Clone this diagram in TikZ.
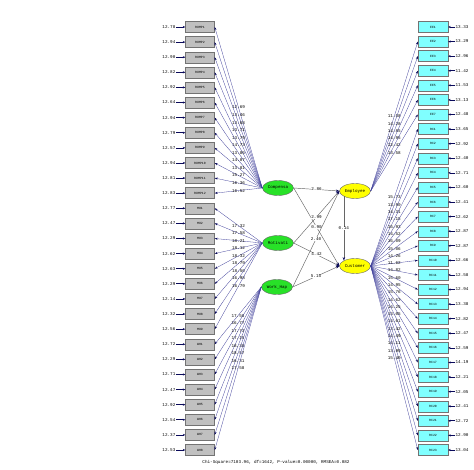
\documentclass[tikz,border=0pt]{standalone}
\usepackage{fontspec}
\setmainfont{Liberation Mono}
\usetikzlibrary{shapes.geometric,arrows.meta}
\definecolor{boxgray}{RGB}{192,192,192}
\definecolor{boxcyan}{RGB}{128,255,255}
\definecolor{latgreen}{RGB}{40,225,40}
\definecolor{latyellow}{RGB}{255,255,0}
\definecolor{linecol}{RGB}{65,65,155}
\definecolor{tipcol}{RGB}{10,10,90}
\tikzset{
  lbox/.style={draw=black!55, fill=boxgray, minimum width=29pt, minimum height=11pt, inner sep=0pt, font=\fontsize{3.2}{3.2}\selectfont},
  rbox/.style={draw=black!55, fill=boxcyan, minimum width=30pt, minimum height=11pt, inner sep=0pt, font=\fontsize{3.2}{3.2}\selectfont},
  lat/.style={ellipse, draw=black!60, minimum width=31pt, minimum height=15pt, inner sep=0pt, font=\fontsize{4.2}{4.2}\selectfont},
  num/.style={font=\fontsize{4.3}{4.3}\selectfont, inner sep=0.4pt},
  load/.style={draw=linecol, line width=0.3pt, -{Stealth[length=3pt,width=2pt,color=tipcol]}},
  errar/.style={draw=tipcol, line width=0.7pt, -{Stealth[length=2.5pt,width=2.2pt]}},
  struct/.style={draw=black!60, line width=0.45pt, -{Stealth[length=3.5pt,width=2.5pt,color=tipcol]}},
  slab/.style={num, fill=white}
}
\begin{document}
\begin{tikzpicture}[x=1pt,y=-1pt]
\useasboundingbox (0,0) rectangle (474,470);
% left indicators
\foreach \n/\e [count=\i] in {ROMP1/12.78,ROMP2/12.94,ROMP3/12.90,ROMP4/12.82,ROMP5/12.92,ROMP6/12.64,ROMP7/12.94,ROMP8/12.79,ROMP9/12.57,ROMP10/12.94,ROMP11/12.81,ROMP12/12.83,MO1/12.77,MO2/12.47,MO3/12.29,MO4/12.62,MO5/12.63,MO6/12.29,MO7/12.14,MO8/12.32,MO9/12.56,WH1/12.72,WH2/12.29,WH3/12.71,WH4/12.47,WH5/12.92,WH6/12.54,WH7/12.37,WH8/12.53}{
  \node[lbox] (L\i) at (200,{27+15.107*(\i-1)}) {\n};
  \node[num, anchor=east] (eL\i) at (176,{27+15.107*(\i-1)}) {\e};
  \draw[errar] (eL\i.east) -- (L\i.west);
}
% right indicators
\foreach \n/\e [count=\i] in {EE1/13.33,EE2/13.29,EE3/12.96,EE4/11.42,EE5/11.53,EE6/13.13,EE7/12.48,RC1/13.65,RC2/12.92,RC3/12.40,RC4/12.71,RC5/12.60,RC6/12.41,RC7/12.62,RC8/12.87,RC9/12.87,RC10/12.66,RC11/12.58,RC12/12.94,RC13/13.38,RC14/12.82,RC15/12.47,RC16/12.59,RC17/14.19,RC18/12.21,RC19/12.05,RC20/12.41,RC21/12.72,RC22/12.90,RC23/13.04}{
  \node[rbox] (R\i) at (433,{27+14.586*(\i-1)}) {\n};
  \node[num, anchor=west] (eR\i) at (455,{27+14.586*(\i-1)}) {\e};
  \draw[errar] (eR\i.west) -- (R\i.east);
}
% latent variables
\node[lat, fill=latgreen] (Compensa) at (278,188) {Compensa};
\node[lat, fill=latgreen] (Motivati) at (278,243) {Motivati};
\node[lat, fill=latgreen] (WorkHap) at (277,287) {Work\_Hap};
\node[lat, fill=latyellow] (Employee) at (355,191) {Employee};
\node[lat, fill=latyellow] (Customer) at (355,266) {Customer};
% loadings left
\foreach \i/\v in {1/12.69,2/13.46,3/13.68,4/13.71,5/13.79,6/14.73,7/13.85,8/14.07,9/13.81,10/15.27,11/16.36,12/16.52}{
  \draw[load] (Compensa.west) -- node[num]{\v} (L\i.east);
}
\foreach \i/\v in {13/17.32,14/17.58,15/18.21,16/18.12,17/18.32,18/18.79,19/18.50,20/16.98,21/16.79}{
  \draw[load] (Motivati.west) -- node[num]{\v} (L\i.east);
}
\foreach \i/\v in {22/17.58,23/16.77,24/17.73,25/17.15,26/18.38,27/18.57,28/16.31,29/17.58}{
  \draw[load] (WorkHap.west) -- node[num]{\v} (L\i.east);
}
% loadings right
\foreach \i/\v in {2/11.58,3/14.28,4/14.85,5/14.95,6/12.42,7/13.58}{
  \draw[load] (Employee.east) -- node[num]{\v} (R\i.west);
}
\foreach \i/\v in {8/15.73,9/13.90,10/14.31,11/17.15,12/15.93,13/14.52,14/16.09,15/15.06,16/14.26,17/11.62,18/14.82,19/15.60,20/14.95,21/15.76,22/14.62,23/14.25,24/13.05,25/14.61,26/13.42,27/14.49,28/14.11,29/13.99,30/15.40}{
  \draw[load] (Customer.east) -- node[num]{\v} (R\i.west);
}
% structural paths
\draw[struct] (Compensa.east) -- node[slab]{2.86} (Employee.west);
\draw[struct] (Compensa.east) -- node[slab]{0.90} (Customer.west);
\draw[struct] (Motivati.east) -- node[slab]{2.99} (Employee.west);
\draw[struct] (Motivati.east) -- node[slab]{4.42} (Customer.west);
\draw[struct] (WorkHap.east) -- node[slab]{2.40} (Employee.west);
\draw[struct] (WorkHap.east) -- node[slab]{5.15} (Customer.west);
\draw[struct] (Employee.south west) -- node[slab]{0.14} (Customer.north west);
% fit statistics
\node[font=\fontsize{4.3}{4.3}\selectfont] (fit) at (276,462) {Chi-Square=7103.96, df=1642, P-value=0.00000, RMSEA=0.082};
\end{tikzpicture}
\end{document}
